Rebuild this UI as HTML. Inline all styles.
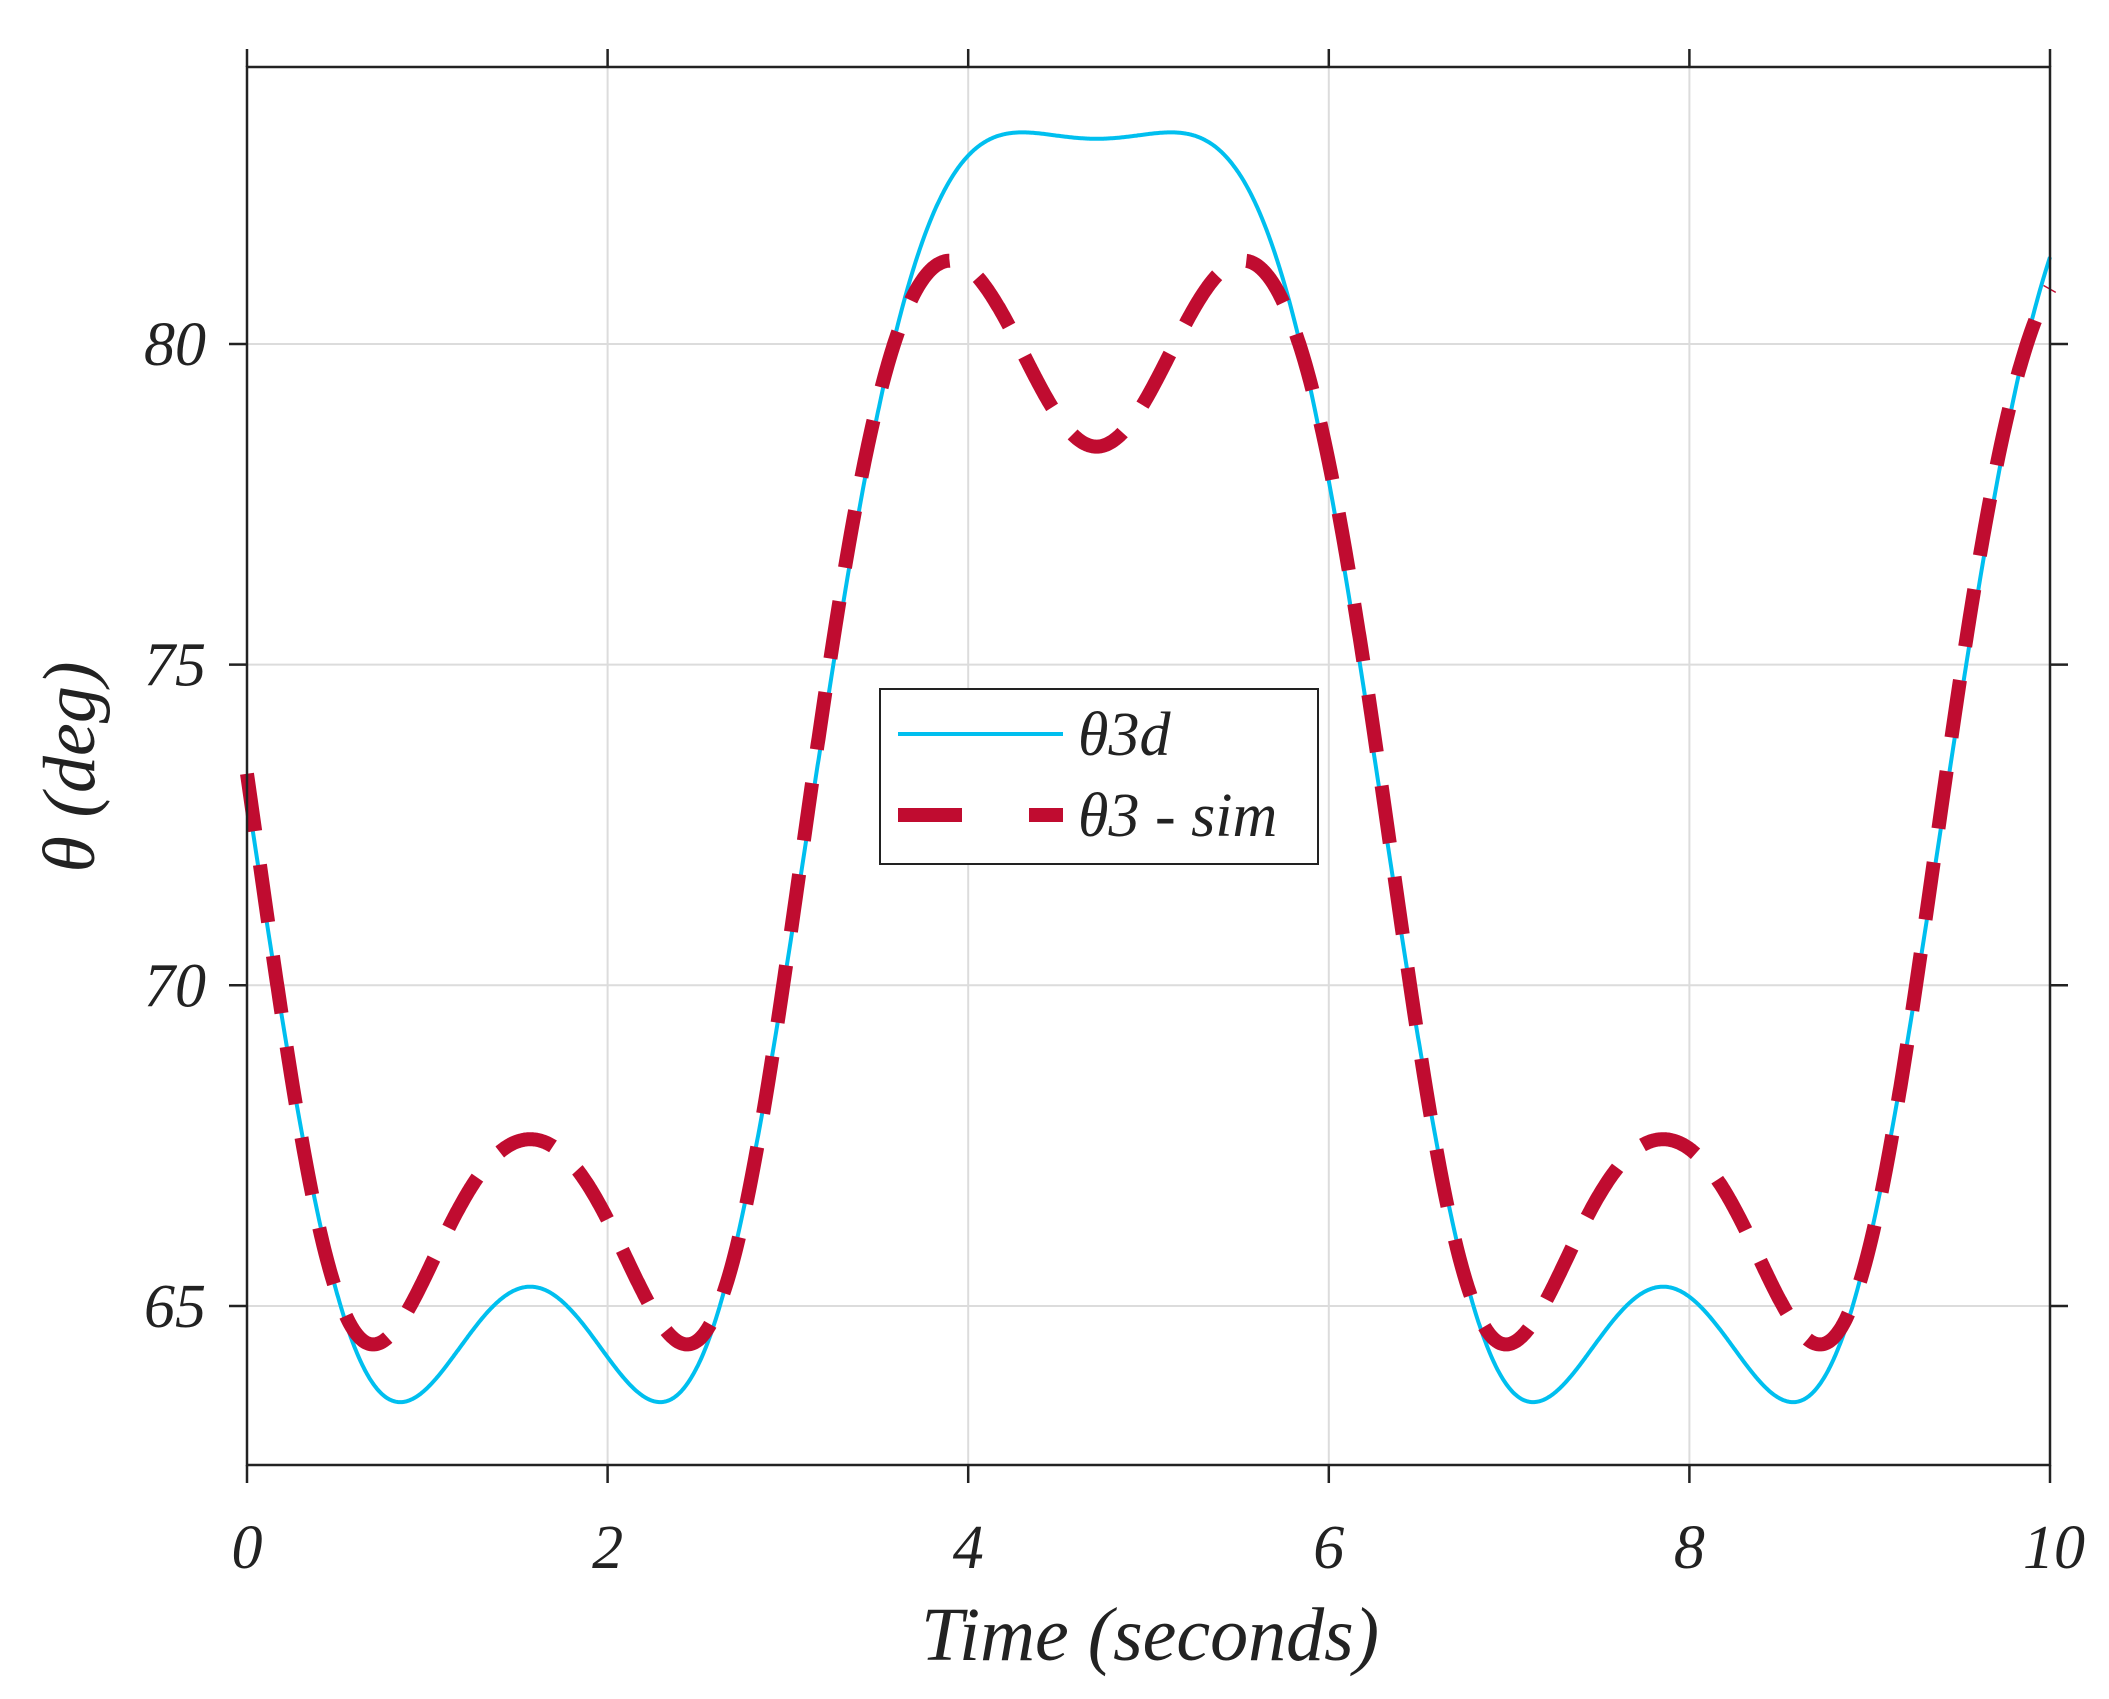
<!DOCTYPE html>
<html><head><meta charset="utf-8"><style>
html,body{margin:0;padding:0;background:#fff;}
svg{display:block;}
text{font-family:"Liberation Serif",serif;font-style:italic;fill:#222;}
</style></head><body>
<svg id="s" width="2109" height="1699" viewBox="0 0 2109 1699" xmlns="http://www.w3.org/2000/svg">
<g id="grid" stroke="#dcdcdc" stroke-width="2"></g>
<path id="blue" fill="none" stroke="#00BFEF" stroke-width="4"/>
<path id="red" fill="none" stroke="#C00C30" stroke-width="14" stroke-dasharray="58 34"/>
<g id="axes" stroke="#222" stroke-width="2.5" fill="none"></g>
<g id="labels" font-size="62"></g>
<text x="1150" y="1660" font-size="76" text-anchor="middle">Time (seconds)</text>
<text transform="translate(94,767) rotate(-90)" font-size="74" text-anchor="middle">θ (deg)</text>
<rect x="880" y="689" width="438" height="175" fill="#fff" stroke="#222" stroke-width="2"/>
<line x1="898" y1="734" x2="1063" y2="734" stroke="#00BFEF" stroke-width="4"/>
<line x1="898" y1="815" x2="962" y2="815" stroke="#C00C30" stroke-width="14"/>
<line x1="1029" y1="815" x2="1063" y2="815" stroke="#C00C30" stroke-width="14"/>
<text x="1078" y="755" font-size="62">θ3d</text>
<text x="1078" y="836" font-size="62">θ3 - sim</text>
</svg>
<script>
var X0=247,X1=2050,YT=67,YB=1465;
function px(t){return X0+(X1-X0)*t/10;}
function py(v){return 344+(80-v)*64.13;}
var ns="http://www.w3.org/2000/svg";
function el(p,n,a){var e=document.createElementNS(ns,n);for(var k in a)e.setAttribute(k,a[k]);p.appendChild(e);return e;}
var G=document.getElementById('grid'),A=document.getElementById('axes'),L=document.getElementById('labels');
[2,4,6,8].forEach(function(t){el(G,'line',{x1:px(t),x2:px(t),y1:YT,y2:YB});});
[65,70,75,80].forEach(function(v){el(G,'line',{x1:X0,x2:X1,y1:py(v),y2:py(v)});});
el(A,'rect',{x:X0,y:YT,width:X1-X0,height:YB-YT});
for(var t=0;t<=10;t+=2){el(A,'line',{x1:px(t),x2:px(t),y1:YT,y2:YT-18});el(A,'line',{x1:px(t),x2:px(t),y1:YB,y2:YB+18});
 var tx=el(L,'text',{x:px(t)+(t==10?4:0),y:1568,'text-anchor':'middle'});tx.textContent=t;}
[65,70,75,80].forEach(function(v){el(A,'line',{x1:X0,x2:X0-18,y1:py(v),y2:py(v)});el(A,'line',{x1:X1,x2:X1+18,y1:py(v),y2:py(v)});
 var tx=el(L,'text',{x:206,y:py(v)+21,'text-anchor':'end'});tx.textContent=v;});
function solve(M,b){var n=b.length;for(var i=0;i<n;i++){var p=i;for(var r=i+1;r<n;r++)if(Math.abs(M[r][i])>Math.abs(M[p][i]))p=r;
 var tm=M[i];M[i]=M[p];M[p]=tm;tm=b[i];b[i]=b[p];b[p]=tm;
 for(var r=0;r<n;r++)if(r!=i){var f=M[r][i]/M[i][i];for(var c=i;c<n;c++)M[r][c]-=f*M[i][c];b[r]-=f*b[i];}}
 return b.map(function(v,i){return v/M[i][i];});}
function fit(a,g1,gm1,s1,v1,s2,v2){
 var M=[],B=[];
 function val(s){return [1,2,3,4,5,6].map(function(k){return Math.pow(s,k);});}
 function der(s){return [1,2,3,4,5,6].map(function(k){return k*Math.pow(s,k-1);});}
 M.push(val(1));B.push(g1-a);M.push(val(-1));B.push(gm1-a);
 M.push(val(s1));B.push(v1-a);M.push(der(s1));B.push(0);
 M.push(val(s2));B.push(v2-a);M.push(der(s2));B.push(0);
 var c=solve(M,B);
 return function(s){var r=a;for(var k=0;k<6;k++)r+=c[k]*Math.pow(s,k+1);return r;};}
var gb=fit(73.0,65.3,83.2,Math.sin(0.85),63.5,Math.sin(4.3),83.3);
var gr=fit(73.3,67.6,78.4,Math.sin(0.7),64.4,Math.sin(3.9),81.3);
function path(g){var d='';for(var i=0;i<=2000;i++){var t=10*i/2000;d+=(i?'L':'M')+px(t).toFixed(1)+','+py(g(Math.sin(t))).toFixed(1);}return d;}
document.getElementById('blue').setAttribute('d',path(gb));
document.getElementById('red').setAttribute('d',path(gr));
</script>
</body></html>
